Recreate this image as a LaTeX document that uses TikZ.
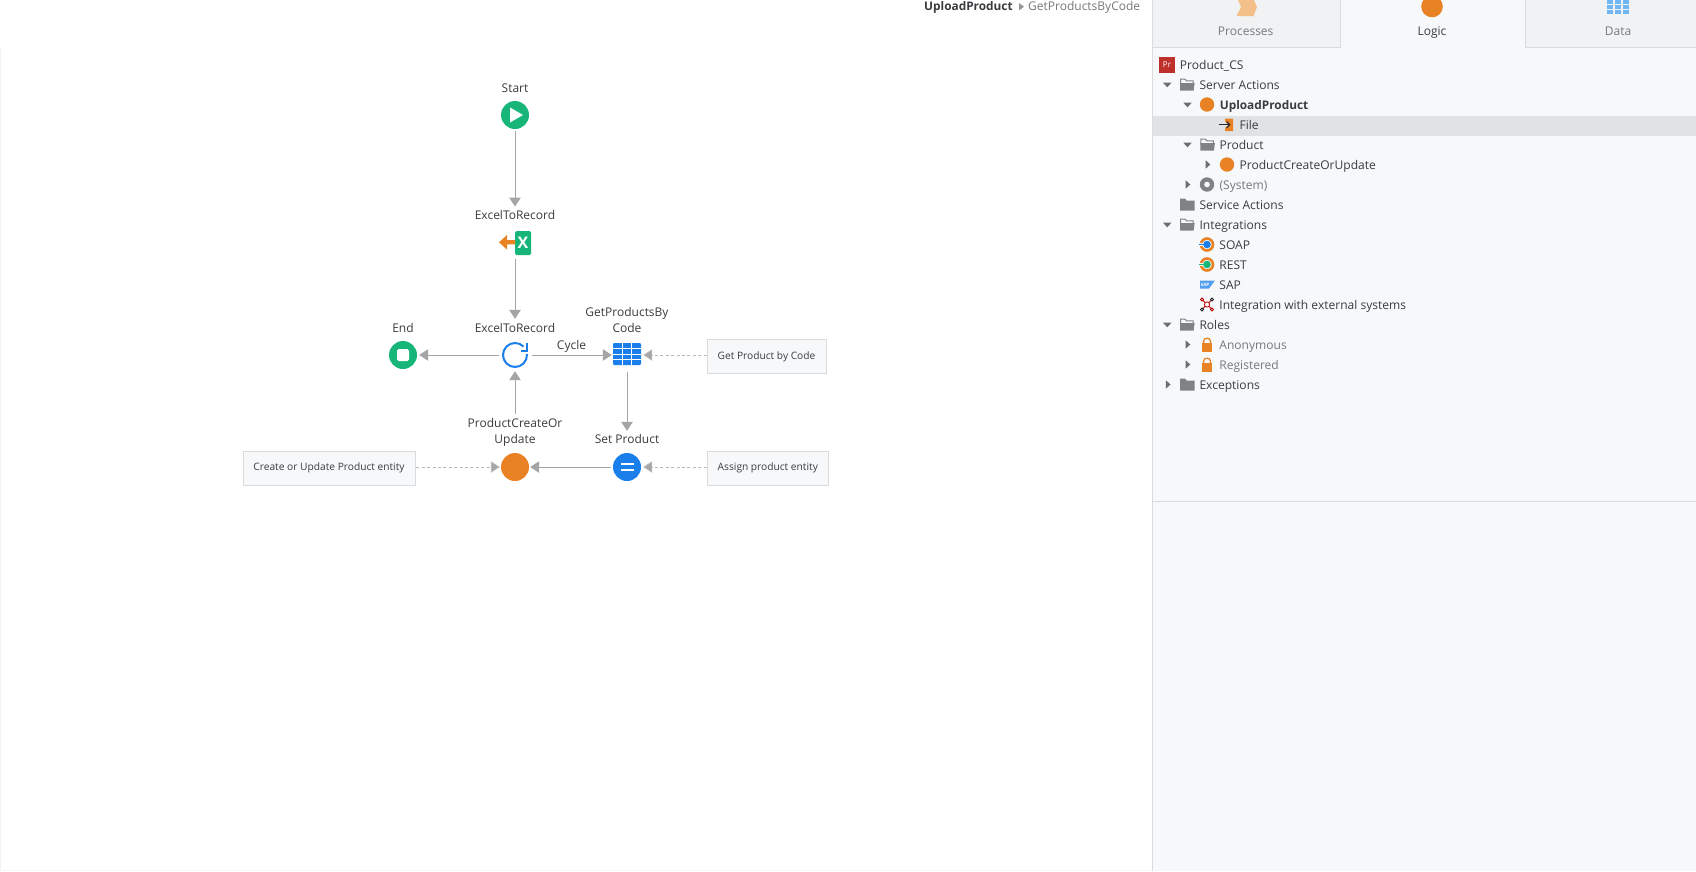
\documentclass[tikz,border=0pt]{standalone}
\usepackage{fontspec}
\setmainfont{Open Sans}
\usetikzlibrary{arrows.meta}
\definecolor{fgreen}{HTML}{17B678}
\definecolor{fblue}{HTML}{1A7FEA}
\definecolor{forange}{HTML}{E88224}
\definecolor{fline}{HTML}{A3A5A7}
\definecolor{fdash}{HTML}{B8BABC}
\definecolor{ftext}{HTML}{3A3C3F}
\definecolor{fmuted}{HTML}{77797C}
\definecolor{panelbg}{HTML}{F6F8FA}
\definecolor{tabbg}{HTML}{F1F2F4}
\definecolor{panelline}{HTML}{D9DBDD}
\definecolor{folder}{HTML}{808285}
\definecolor{tri}{HTML}{6C6E71}
\definecolor{chevron}{HTML}{F3C08A}
\definecolor{datagrid}{HTML}{6FB6F5}
\definecolor{prred}{HTML}{C0302B}
\definecolor{selrow}{HTML}{E1E2E4}
\newcommand{\tfolderopen}[2]{\begin{scope}[shift={(#1,#2)}]
\draw[folder,line width=1pt] (0.5,0) -- (0.5,-5.5) -- (5,-5.5) -- (6.5,-3.7) -- (13,-3.7) -- (13,0);
\fill[folder] (0,-1.5) -- (14.6,-1.5) -- (13.6,6) -- (0,6) -- cycle;
\end{scope}}
\newcommand{\tfolderclosed}[2]{\begin{scope}[shift={(#1,#2)}]
\fill[folder] (0,-6) -- (5,-6) -- (6.5,-4) -- (14.6,-4) -- (14.6,6) -- (0,6) -- cycle;
\end{scope}}
\newcommand{\ttridown}[2]{\fill[tri] (#1-4.2,#2-1.8) -- (#1+4.2,#2-1.8) -- (#1,#2+2.8) -- cycle;}
\newcommand{\ttriright}[2]{\fill[tri] (#1-1.8,#2-4.2) -- (#1+2.8,#2) -- (#1-1.8,#2+4.2) -- cycle;}
\newcommand{\tlock}[2]{\fill[forange] (#1-5,#2-1.5) rectangle (#1+5,#2+7.5);
\draw[forange,line width=1.3pt] (#1-3.4,#2-1.5) -- (#1-3.4,#2-3.5) .. controls (#1-3.4,#2-7.2) and (#1+3.4,#2-7.2) .. (#1+3.4,#2-3.5) -- (#1+3.4,#2-1.5);}
\newcommand{\tservice}[3]{\draw[forange,line width=2.6pt] (#1,#2) circle[radius=6pt];
\fill[panelbg] (#1-8.5,#2-1.6) rectangle (#1,#2+1.6);
\fill[#3] (#1,#2) circle[radius=3.8pt];
\fill[#3] (#1-8.5,#2-0.9) rectangle (#1,#2+0.9);}
\tikzset{
 flow/.style={draw=fline,line width=1pt,-{Triangle[length=9pt,width=11.5pt,fill=fline]}},
 note/.style={draw=fdash,line width=.9pt,dash pattern=on 3pt off 2.4pt,-{Triangle[length=9pt,width=11.5pt,fill=fline]}},
 dot/.style={circle,inner sep=0pt,minimum size=28pt,fill=#1,draw=none},
 lab/.style={font=\fontsize{12}{16}\selectfont,text=ftext,anchor=mid,inner sep=0pt,align=center,yshift=-2.2pt},
 labm/.style={font=\fontsize{12}{16}\selectfont,text=ftext,anchor=center,inner sep=0pt,align=center},
 notebox/.style={draw=panelline,line width=.9pt,fill=panelbg,inner sep=0pt,font=\fontsize{10.2}{12}\selectfont,text=ftext},
 tree/.style={font=\fontsize{12.05}{14}\selectfont,text=ftext,anchor=mid west,inner sep=0pt,yshift=-2.2pt},
 treem/.style={tree,text=fmuted},
 tab/.style={font=\fontsize{12}{14}\selectfont,text=fmuted,anchor=mid,inner sep=0pt,yshift=-2.2pt},
}
\begin{document}
\begin{tikzpicture}[x=1pt,y=-1pt]
\useasboundingbox (0,0) rectangle (1696,871);
\fill[white] (0,0) rectangle (1696,871);
% canvas faint edges
\fill[black!5] (0,48) rectangle (0.8,871);
\fill[black!3] (0,869.5) rectangle (1152,871);
% right panel
\fill[panelbg] (1153,0) rectangle (1696,871);
\fill[panelline] (1152,0) rectangle (1153.3,871);
\fill[tabbg] (1153,0) rectangle (1340,47);
\fill[tabbg] (1525.5,0) rectangle (1696,47);
\draw[panelline,line width=1pt] (1153,47.5) -- (1340,47.5) -- (1340,0);
\draw[panelline,line width=1pt] (1525.5,0) -- (1525.5,47.5) -- (1696,47.5);
\draw[panelline,line width=1pt] (1153,501.7) -- (1696,501.7);
\fill[selrow] (1153,116) rectangle (1696,136);
% tab icons
\fill[chevron] (1236.5,16) -- (1253.5,16) -- (1257,7) -- (1254,0) -- (1238,0) -- (1241,7) -- cycle;
\fill[forange] (1432,6.5) circle[radius=10.8pt];
\foreach \cx in {1607,1615,1623}{\foreach \cy in {0,5,10}{\fill[datagrid] (\cx,\cy) rectangle (\cx+6.3,\cy+4.2);}}
\node[tab] (tabP) at (1245.7,30.5) {Processes};
\node[tab,text=ftext] (tabL) at (1432,30.5) {Logic};
\node[tab] (tabD) at (1618,30.5) {Data};
% breadcrumb
\node[anchor=mid west,inner sep=0pt,yshift=-1.4pt,font=\fontsize{11.85}{14}\selectfont\bfseries,text=ftext] (bc1) at (924,6.5) {UploadProduct};
\fill[fmuted!80] (1019,3) -- (1024,6.7) -- (1019,10.4) -- cycle;
\node[anchor=mid west,inner sep=0pt,yshift=-1.4pt,font=\fontsize{12}{14}\selectfont,text=fmuted] (bc2) at (1028,6.5) {GetProductsByCode};
% tree
\fill[prred] (1159,57) rectangle (1175,73);
\node[font=\fontsize{8}{8}\selectfont,text=white,inner sep=0pt] (prIcon) at (1167,64.5) {Pr};
\node[tree] (t01) at (1179.7,64.5) {Product\_CS};
\ttridown{1167.2}{84.5}\tfolderopen{1180}{84.5}
\node[tree] (t02) at (1199.3,84.5) {Server Actions};
\ttridown{1187.5}{104.5}\fill[forange] (1207,104.5) circle[radius=7.2pt];
\node[tree,font=\fontsize{11.85}{14}\selectfont\bfseries] (t03) at (1219.6,104.5) {UploadProduct};
\fill[forange] (1225,118.5) -- (1233,118.5) -- (1233,131) -- (1225,131) -- (1225,128) -- (1229,124.7) -- (1225,121.5) -- cycle;
\draw[black!85,line width=1.2pt,-{Straight Barb[length=3pt,width=6pt]}] (1219,124.7) -- (1230.5,124.7);
\node[tree] (t04) at (1239.4,124.5) {File};
\ttridown{1187.5}{144.5}\tfolderopen{1200.3}{144.5}
\node[tree] (t05) at (1219.4,144.5) {Product};
\ttriright{1207.5}{164.5}\fill[forange] (1227,164.5) circle[radius=7.2pt];
\node[tree] (t06) at (1239.4,164.5) {ProductCreateOrUpdate};
\ttriright{1187.5}{184.5}\fill[folder] (1207,184.5) circle[radius=7.2pt];\fill[panelbg] (1207,184.5) circle[radius=2.8pt];
\node[treem] (t07) at (1219.4,184.5) {(System)};
\tfolderclosed{1180}{204.5}
\node[tree] (t08) at (1199.3,204.5) {Service Actions};
\ttridown{1167.2}{224.5}\tfolderopen{1180}{224.5}
\node[tree] (t09) at (1199.3,224.5) {Integrations};
\tservice{1207}{244.5}{fblue}
\node[tree] (t10) at (1219.2,244.5) {SOAP};
\tservice{1207}{264.5}{fgreen}
\node[tree] (t11) at (1219.2,264.5) {REST};
\fill[fblue!75] (1200,280.5) -- (1215,280.5) -- (1209,288.5) -- (1200,288.5) -- cycle;
\node[font=\fontsize{4.5}{5}\selectfont\bfseries,text=white,inner sep=0pt] (sapIcon) at (1205,284.5) {SAP};
\node[tree] (t12) at (1219.2,284.5) {SAP};
\draw[red!75!black,line width=.9pt] (1202,299.5) -- (1212,309.5) (1212,299.5) -- (1202,309.5);
\fill[panelbg] (1207,304.5) circle[radius=2.6pt];
\draw[red!75!black,line width=.8pt] (1207,304.5) circle[radius=2.6pt];
\draw[red!75!black,line width=.8pt,fill=panelbg] (1202,299.5) circle[radius=1.5pt];
\draw[black!85,line width=.8pt,fill=panelbg] (1212,299.5) circle[radius=1.5pt];
\draw[black!85,line width=.8pt,fill=panelbg] (1202,309.5) circle[radius=1.5pt];
\draw[red!75!black,line width=.8pt,fill=panelbg] (1212,309.5) circle[radius=1.5pt];
\node[tree] (t13) at (1219.2,304.5) {Integration with external systems};
\ttridown{1167.2}{324.5}\tfolderopen{1180}{324.5}
\node[tree] (t14) at (1199.3,324.5) {Roles};
\ttriright{1187.5}{344.5}\tlock{1207}{344.5}
\node[treem] (t15) at (1219.2,344.5) {Anonymous};
\ttriright{1187.5}{364.5}\tlock{1207}{364.5}
\node[treem] (t16) at (1219.2,364.5) {Registered};
\ttriright{1167.7}{384.5}\tfolderclosed{1180}{384.5}
\node[tree] (t17) at (1199.3,384.5) {Exceptions};
% flow nodes
\node[dot=fgreen] (start) at (515,115) {};
\fill[white] (510,107.5) -- (523,115) -- (510,122.5) -- cycle;
\node[inner sep=0pt,minimum width=32pt,minimum height=24pt] (xl) at (515,243) {};
\fill[fgreen,rounded corners=1.5pt] (515,231) -- (531,231) -- (531,255) -- (515,255) -- cycle;
\fill[forange] (499,242.3) -- (507,235) -- (507,240.2) -- (515,240.2) -- (515,244.4) -- (507,244.4) -- (507,249.6) -- cycle;
\node[font=\fontsize{16}{16}\selectfont\bfseries,text=white,inner sep=0pt] (xlX) at (523,243) {X};
\node[circle,inner sep=0pt,minimum size=28pt] (loop) at (515,355) {};
\draw[fblue,line width=2pt] (523.5,346.5) arc[start angle=45,end angle=365,radius=12pt];
\draw[fblue,line width=2pt] (526.7,343.2) -- (526.7,350.7) -- (520.5,350.7);
\node[dot=fgreen] (end) at (403,355) {};
\fill[white,rounded corners=1.6pt] (397,349) rectangle (409,361);
\node[inner sep=0pt,minimum width=28pt,minimum height=24pt] (tbl) at (627,355) {};
\fill[fblue,rounded corners=1.2pt] (613,343) rectangle (641,365);
\draw[white,line width=.9pt] (613,348.5) -- (641,348.5) (613,354) -- (641,354) (613,359.5) -- (641,359.5) (622.4,343) -- (622.4,365) (631.6,343) -- (631.6,365);
\node[dot=fblue] (setp) at (627,467) {};
\fill[white] (620.5,462.5) rectangle (633.5,464.7);
\fill[white] (620.5,468.7) rectangle (633.5,470.9);
\node[dot=forange] (pcu) at (515,467) {};
% labels
\node[lab] (lStart) at (515,87.5) {Start};
\node[lab] (lXl1) at (515,215) {ExcelToRecord};
\node[lab] (lXl2) at (515,327.5) {ExcelToRecord};
\node[lab] (lEnd) at (403,327.5) {End};
\node[labm] (lGet) at (627,320) {GetProductsBy\\Code};
\node[lab] (lCyc) at (571.5,344.3) {Cycle};
\node[labm] (lPcu) at (515,432) {ProductCreateOr\\Update};
\node[lab] (lSet) at (627,439) {Set Product};
% notes
\node[notebox,minimum width=119pt,minimum height=34pt] (nGet) at (766.5,356.5) {\raisebox{-0.8pt}{Get Product by Code}};
\node[notebox,minimum width=121.5pt,minimum height=34pt] (nSet) at (767.8,468) {\raisebox{-0.8pt}{Assign product entity}};
\node[notebox,minimum width=172pt,minimum height=34pt] (nPcu) at (329,468) {\raisebox{-0.8pt}{Create or Update Product entity}};
% connectors
\draw[flow,shorten <=2pt,shorten >=24.3pt] (start.south) -- (xl.north);
\draw[flow,shorten <=4pt,shorten >=22pt] (xl.south) -- (loop.north);
\draw[flow,shorten <=2pt,shorten >=2pt] (loop.west) -- (end.east);
\draw[flow,shorten <=2.5pt,shorten >=1pt] (loop.east) -- (tbl.west);
\draw[flow,shorten <=4.7pt,shorten >=22pt] (tbl.south) -- (setp.north);
\draw[flow,shorten <=2pt,shorten >=1pt] (setp.west) -- (pcu.east);
\draw[flow,shorten <=39pt,shorten >=2pt] (pcu.north) -- (loop.south);
\draw[note,shorten >=2pt] (nGet.west |- tbl.east) -- (tbl.east);
\draw[note,shorten >=2pt] (nSet.west |- setp.east) -- (setp.east);
\draw[note,shorten <=1pt,shorten >=1pt] (nPcu.east |- pcu.west) -- (pcu.west);
\end{tikzpicture}
\end{document}
